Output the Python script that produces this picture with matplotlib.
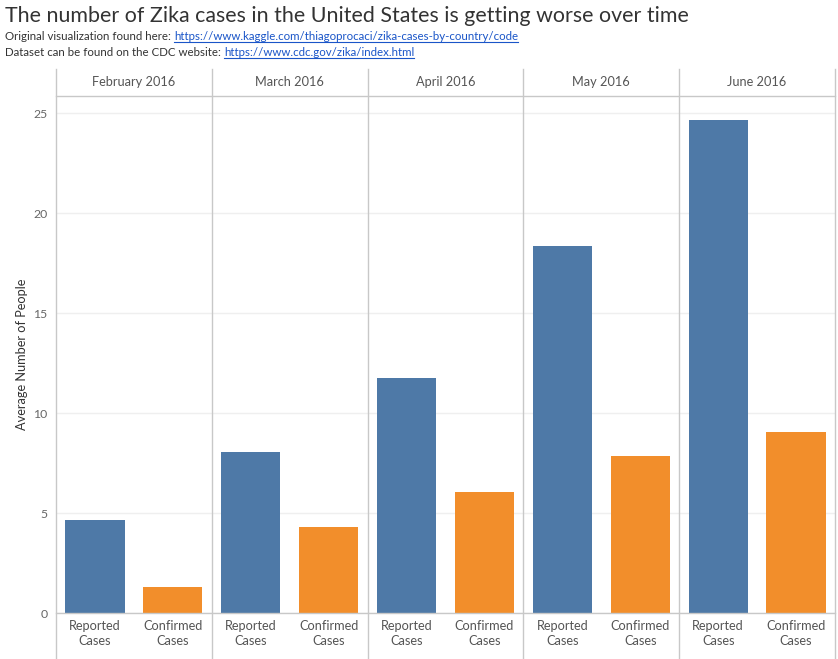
import matplotlib.pyplot as plt
import numpy as np

plt.rcParams['font.family'] = ['Lato', 'DejaVu Sans']

# data
months = ['February 2016', 'March 2016', 'April 2016', 'May 2016', 'June 2016']
case_types = ['Reported\nCases', 'Confirmed\nCases']
reported = [4.65, 8.05, 11.77, 18.37, 24.63]
confirmed = [1.3, 4.3, 6.05, 7.85, 9.05]
y_ticks = [0, 5, 10, 15, 20, 25]

blue = '#4e79a7'
orange = '#f28e2b'
border = '#c8c8c8'
link = '#1a55c8'
W, H = 838, 659

fig = plt.figure(figsize=(W / 100, H / 100), dpi=100)
# axes in pixel coords: x 56..835, y 96..613
ax = fig.add_axes([56 / W, (H - 613) / H, (835 - 56) / W, (613 - 96) / H])

n = len(months)
xr = np.arange(n) * 2
xc = xr + 1
ax.bar(xr, reported, width=0.76, color=blue, zorder=3)
ax.bar(xc, confirmed, width=0.76, color=orange, zorder=3)

ax.set_xlim(-0.5, 2 * n - 0.5)
ax.set_ylim(0, (613 - 96) / 20)
ax.set_yticks(y_ticks)
ax.tick_params(axis='y', length=0, labelsize=8.8, labelcolor='#666666', pad=6)
ax.yaxis.grid(True, color='#efefef', lw=1, zorder=0)
ax.set_ylabel('Average Number of People', fontsize=9.2, color='#333333', labelpad=4)

ax.set_xticks(np.arange(2 * n))
ax.set_xticklabels(case_types * n, fontsize=9.2, color='#555555', linespacing=1.35)
ax.tick_params(axis='x', length=0, pad=5)

for s in ['top', 'right', 'left', 'bottom']:
    ax.spines[s].set_visible(False)

# frame lines (header + panel separators)
trans = ax.get_xaxis_transform()
top_hdr = 1 + (96 - 69) / (613 - 96)
bot = -(659 - 613) / (613 - 96)
for b in np.arange(n + 1) * 2 - 0.5:
    ax.plot([b, b], [bot, top_hdr], transform=trans, color=border, lw=1, clip_on=False, zorder=4)
ax.plot([-0.5, 2 * n - 0.5], [1, 1], transform=trans, color=border, lw=1, clip_on=False, zorder=4)
ax.plot([-0.5, 2 * n - 0.5], [0, 0], transform=trans, color=border, lw=1, clip_on=False, zorder=4)
for i, m in enumerate(months):
    ax.text(2 * i + 0.5, (1 + top_hdr) / 2, m, transform=trans, ha='center', va='center',
            fontsize=9.2, color='#555555')

# titles
fig.text(5 / W, 1 - 16 / H, 'The number of Zika cases in the United States is getting worse over time',
         fontsize=15.4, color='#333333', va='center')


def line_with_link(y, label, url):
    t = fig.text(5 / W, 1 - y / H, label, fontsize=8.3, color='#333333', va='center')
    r = fig.canvas.get_renderer()
    x0 = t.get_window_extent(r).x1 / W
    u = fig.text(x0, 1 - y / H, url, fontsize=8.3, color=link, va='center')
    bb = u.get_window_extent(r)
    yl = (bb.y0 - 0.5) / H
    fig.add_artist(plt.Line2D([bb.x0 / W, bb.x1 / W], [yl, yl], color=link, lw=0.8))


line_with_link(36, 'Original visualization found here: ',
               'https://www.kaggle.com/thiagoprocaci/zika-cases-by-country/code')
line_with_link(52, 'Dataset can be found on the CDC website: ', 'https://www.cdc.gov/zika/index.html')

fig.savefig('out.png', dpi=100)
